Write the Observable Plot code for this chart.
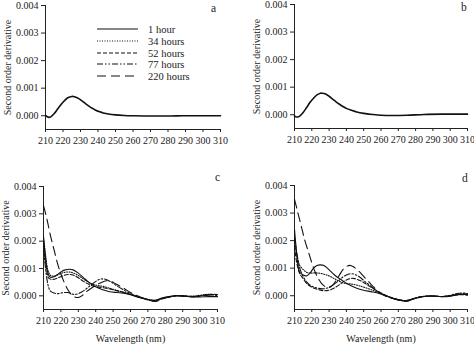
<!DOCTYPE html>
<html>
<head>
<meta charset="utf-8">
<script src="https://cdn.jsdelivr.net/npm/d3@7"></script>
<script src="https://cdn.jsdelivr.net/npm/@observablehq/plot@0.6"></script>
<style>
  html, body { margin: 0; padding: 0; background: #fff; }
  #wrap { position: relative; width: 474px; height: 344px; overflow: hidden; font-family: 'Liberation Serif', 'Times New Roman', serif; }
  .panel { position: absolute; }
  .letter { position: absolute; font-size: 11.5px; color: #222; line-height: 1; }
  #legend { position: absolute; left: 0; top: 0; }
</style>
</head>
<body>
<div id="wrap"></div>
<script>
// ---------- data ----------
const series = ["1 hour", "34 hours", "52 hours", "77 hours", "220 hours"];
const dashStyles = ["none", "1,1.5", "4,2", "6,2,1.5,2,1.5,2", "9,5"];
const xTicks = [210, 220, 230, 240, 250, 260, 270, 280, 290, 300, 310];
const yTicks = [0.000, 0.001, 0.002, 0.003, 0.004];
const panelLetters = ["a", "b", "c", "d"];
const xTitle = "Wavelength (nm)";
const yTitle = "Second order derivative";

// panel a (all curves overlap)
const a_1h = [[210,0.00001],[211,-0.00004],[212,-0.00006],[213,-0.00004],[215,0.00008],[217,0.00025],[219,0.00042],[221,0.00056],[223,0.00066],[225,0.0007],[226,0.0007],[227,0.00068],[229,0.00062],[231,0.00053],[233,0.00043],[235,0.00034],[237,0.00026],[239,0.00019],[241,0.00014],[243,0.0001],[246,0.00006],[250,0.00003],[255,0.00001],[260,0.0],[270,-0.00001],[280,-0.00001],[290,0.0],[300,0.0],[310,0.0]];
// panel b (all curves overlap)
const b_1h = [[210,-0.00004],[211,-0.00008],[212,-0.00008],[213,-0.00005],[215,0.00008],[217,0.00026],[219,0.00045],[221,0.0006],[223,0.00072],[225,0.00078],[226,0.00078],[228,0.00075],[230,0.00067],[232,0.00057],[234,0.00047],[236,0.00038],[238,0.0003],[240,0.00023],[243,0.00016],[246,0.0001],[250,0.00005],[255,0.00001],[260,-0.00002],[267,-0.00003],[275,-0.00002],[285,0.00001],[295,0.00002],[310,0.00002]];

// panel c
const c_1h = [[210,0.0021],[211,0.0015],[212,0.001],[213,0.00075],[214,0.00068],[216,0.0007],[218,0.00078],[220,0.00087],[222,0.00094],[225,0.00097],[227,0.00095],[230,0.00083],[233,0.00066],[236,0.0005],[240,0.00033],[244,0.00022],[248,0.00015],[252,0.00012],[256,0.0001],[260,0.00004],[264,-0.00004],[268,-0.0001],[272,-0.00016],[275,-0.00015],[278,-0.00008],[282,-0.00003],[286,0.0],[290,-0.00001],[295,-0.00003],[300,-0.00004],[305,-0.00003],[310,-0.00003]];
const c_34h = [[210,0.0022],[211,0.0016],[212,0.0011],[213,0.00085],[214,0.00075],[216,0.00072],[218,0.00076],[220,0.00082],[223,0.00087],[226,0.00086],[229,0.00078],[232,0.00066],[235,0.00053],[238,0.00043],[241,0.00038],[244,0.00035],[248,0.00028],[252,0.0002],[256,0.00013],[260,0.00006],[264,-0.00003],[268,-0.0001],[272,-0.00015],[275,-0.00016],[278,-0.0001],[282,-0.00004],[286,0.0],[290,0.0],[295,-0.00002],[300,0.00002],[305,0.00006],[310,0.00003]];
const c_52h = [[210,0.002],[211,0.0013],[212,0.00085],[213,0.00065],[215,0.0006],[218,0.00065],[221,0.00073],[224,0.00078],[227,0.00076],[230,0.00066],[233,0.00053],[236,0.00042],[239,0.00035],[242,0.00032],[246,0.00028],[250,0.00022],[254,0.00016],[258,0.00009],[262,0.0],[266,-0.00008],[270,-0.00015],[274,-0.00019],[277,-0.00014],[280,-0.00007],[284,-0.00002],[288,0.00001],[292,-0.00001],[296,-0.00004],[300,-0.00001],[304,0.00004],[307,0.00006],[310,0.00005]];
const c_77h = [[210,0.0018],[211,0.0011],[212,0.0006],[213,0.0003],[214,0.00017],[216,0.0001],[218,0.00008],[220,0.0001],[222,0.00012],[224,0.00012],[226,0.00008],[228,0.00005],[230,0.00008],[233,0.00018],[236,0.00033],[239,0.00048],[242,0.0006],[244,0.00062],[246,0.0006],[249,0.0005],[252,0.00037],[256,0.00022],[260,0.00008],[264,-0.00003],[268,-0.0001],[272,-0.00017],[275,-0.00016],[278,-0.0001],[282,-0.00004],[286,0.00001],[290,0.0],[294,-0.00002],[298,-0.00001],[302,0.00003],[306,0.00005],[310,0.00001]];
const c_220h = [[210,0.0033],[212,0.0028],[214,0.0022],[216,0.0017],[218,0.0012],[220,0.0008],[222,0.00048],[224,0.00022],[226,0.00005],[228,-0.00004],[230,-0.00006],[232,0.0],[234,0.00012],[237,0.00026],[240,0.00038],[243,0.00048],[246,0.00055],[249,0.00052],[252,0.00042],[256,0.00028],[260,0.00012],[264,0.0],[268,-0.0001],[272,-0.00018],[275,-0.0002],[278,-0.00012],[282,-0.00005],[286,0.0],[290,-0.00001],[295,-0.00003],[300,-0.00001],[305,0.00002],[310,0.00004]];

// panel d
const d_1h = [[210,0.0024],[211,0.0017],[212,0.0011],[213,0.00085],[215,0.00075],[217,0.00072],[219,0.00082],[221,0.001],[223,0.0011],[225,0.00112],[227,0.0011],[229,0.001],[231,0.00088],[233,0.00076],[235,0.00066],[237,0.00058],[240,0.00045],[243,0.00035],[246,0.00027],[250,0.0002],[254,0.00015],[258,0.0001],[262,0.00002],[266,-0.00008],[270,-0.00015],[274,-0.00018],[277,-0.00014],[280,-0.00008],[284,-0.00003],[288,-0.00001],[292,-0.00002],[296,-0.00004],[300,-0.00002],[304,0.00003],[308,0.00006],[310,0.00006]];
const d_34h = [[210,0.002],[211,0.0016],[212,0.0013],[213,0.0011],[215,0.00095],[217,0.00085],[219,0.00082],[221,0.00083],[224,0.00082],[227,0.00078],[230,0.00072],[233,0.00062],[236,0.00052],[239,0.00045],[242,0.00043],[245,0.0004],[248,0.00035],[252,0.00027],[256,0.00018],[260,0.00008],[264,-0.00003],[268,-0.00011],[272,-0.00017],[275,-0.00018],[278,-0.00013],[282,-0.00006],[286,-0.00002],[290,-0.00001],[295,-0.00003],[300,0.0],[305,0.00006],[310,0.00006]];
const d_52h = [[210,0.0018],[211,0.0013],[212,0.001],[213,0.0008],[215,0.00062],[217,0.00045],[219,0.00035],[221,0.00028],[224,0.00022],[227,0.00018],[230,0.0002],[233,0.00028],[236,0.0004],[239,0.00054],[242,0.00062],[244,0.00063],[246,0.0006],[249,0.00052],[252,0.0004],[256,0.00024],[260,0.0001],[264,-0.00002],[268,-0.0001],[272,-0.00017],[275,-0.00019],[278,-0.00013],[282,-0.00006],[286,-0.00002],[290,-0.00001],[295,-0.00003],[300,0.0],[305,0.00004],[310,0.00002]];
const d_77h = [[210,0.0021],[211,0.0017],[212,0.0013],[213,0.001],[215,0.0007],[217,0.0005],[219,0.00038],[221,0.00032],[223,0.00028],[226,0.00025],[229,0.00028],[232,0.00038],[235,0.00052],[238,0.00068],[241,0.00078],[243,0.0008],[245,0.00077],[248,0.00066],[251,0.0005],[255,0.0003],[259,0.00012],[263,0.0],[267,-0.0001],[271,-0.00016],[274,-0.0002],[277,-0.00015],[280,-0.00008],[284,-0.00003],[288,-0.00001],[292,-0.00002],[296,-0.00003],[300,0.00002],[304,0.00008],[307,0.0001],[310,0.00008]];
const d_220h = [[210,0.0035],[212,0.003],[214,0.0025],[216,0.002],[218,0.0016],[220,0.0012],[222,0.00085],[224,0.0006],[226,0.00042],[228,0.00032],[230,0.0003],[232,0.00038],[234,0.00055],[236,0.00075],[238,0.00095],[240,0.00106],[242,0.0011],[244,0.00105],[247,0.0009],[250,0.0007],[253,0.0005],[256,0.0003],[260,0.00008],[264,-0.00005],[268,-0.00012],[272,-0.00018],[275,-0.0002],[278,-0.00014],[282,-0.00006],[286,-0.00002],[290,-0.00001],[295,-0.00003],[300,0.0],[305,0.00005],[310,0.00004]];

// ---------- layout ----------
const yDomain = [-0.0005, 0.004];
const xDomain = [210, 310];
const panels = [
  {curves: [a_1h], left: 0, top: 0, ml: 45, mr: 17, mt: 5, mb: 43, xlabel: null, letter: {x: 211, y: 3}, sw: 1.6},
  {curves: [b_1h], left: 237, top: 0, ml: 57, mr: 7, mt: 4, mb: 44, xlabel: null, letter: {x: 461, y: 2}, sw: 1.6},
  {curves: [c_1h, c_34h, c_52h, c_77h, c_220h], left: 0, top: 172, ml: 43, mr: 20, mt: 14, mb: 35, xlabel: xTitle, letter: {x: 215, y: 172}, sw: 1.1},
  {curves: [d_1h, d_34h, d_52h, d_77h, d_220h], left: 237, top: 172, ml: 57, mr: 7, mt: 13, mb: 35, xlabel: xTitle, letter: {x: 462, y: 173}, sw: 1.1}
];

const wrap = document.getElementById("wrap");
const font = "'Liberation Serif', 'Times New Roman', serif";

panels.forEach((p, i) => {
  const lineMarks = p.curves.map((c, k) => Plot.line(c, {
    x: d => d[0], y: d => d[1],
    stroke: "#111", strokeWidth: p.sw,
    strokeDasharray: dashStyles[k] === "none" ? null : dashStyles[k],
    curve: "catmull-rom"
  }));
  const chart = Plot.plot({
    width: 237, height: 172,
    marginLeft: p.ml, marginRight: p.mr, marginTop: p.mt, marginBottom: p.mb,
    style: {fontFamily: font, fontSize: "10px", color: "#222", background: "transparent", overflow: "visible"},
    x: {domain: xDomain},
    y: {domain: yDomain},
    marks: [
      Plot.axisY({ticks: yTicks, tickFormat: d3.format(".3f"), tickSize: 4, tickPadding: 3,
        label: yTitle, labelAnchor: "center", labelOffset: 42, labelArrow: "none"}),
      Plot.axisX({ticks: xTicks, tickFormat: d => String(d), tickSize: 3, tickPadding: 4,
        label: p.xlabel, labelAnchor: "center", labelOffset: 32, labelArrow: "none"}),
      Plot.ruleX([xDomain[0]], {y1: yDomain[0], y2: yDomain[1], stroke: "#222"}),
      Plot.ruleY([yDomain[0]], {x1: xDomain[0], x2: xDomain[1], stroke: "#222"}),
      ...lineMarks
    ]
  });
  const div = document.createElement("div");
  div.className = "panel";
  div.style.left = p.left + "px";
  div.style.top = p.top + "px";
  div.appendChild(chart);
  wrap.appendChild(div);

  const lt = document.createElement("div");
  lt.className = "letter";
  lt.style.left = p.letter.x + "px";
  lt.style.top = p.letter.y + "px";
  lt.textContent = panelLetters[i];
  wrap.appendChild(lt);
});

// legend in panel a
const leg = d3.select(wrap).append("svg").attr("id", "legend")
  .attr("width", 237).attr("height", 100)
  .style("font-family", font).style("font-size", "10.5px");
const rowY = [29, 41, 53, 64, 76];
series.forEach((s, k) => {
  leg.append("line").attr("x1", 97).attr("x2", 138).attr("y1", rowY[k]).attr("y2", rowY[k])
    .attr("stroke", "#111").attr("stroke-width", 1.1)
    .attr("stroke-dasharray", dashStyles[k] === "none" ? null : dashStyles[k]);
  leg.append("text").attr("x", 148).attr("y", rowY[k]).attr("dy", "0.35em")
    .attr("fill", "#222").text(s);
});
</script>
</body>
</html>
